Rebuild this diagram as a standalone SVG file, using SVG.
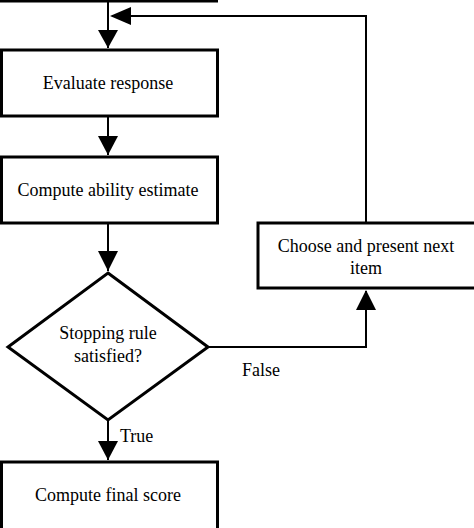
<svg xmlns="http://www.w3.org/2000/svg" width="474" height="528" viewBox="0 0 474 528">
<style>
.box{fill:#fff;stroke:#000;stroke-width:3}
.con{fill:none;stroke:#000;stroke-width:2}
.t{font-family:"Liberation Serif","Times New Roman",serif;font-size:18px;fill:#000;text-anchor:middle}
.l{font-family:"Liberation Serif","Times New Roman",serif;font-size:18px;fill:#000}
</style>
<rect width="474" height="528" fill="#fff"/>
<g id="connectors">
<path class="con" d="M108,2 V48"/>
<path d="M98,30 L118,30 L108,48 Z" fill="#000"/>
<path class="con" d="M366,222 V16 H112"/>
<path d="M110,16 L131,7 L131,25 Z" fill="#000"/>
<path class="con" d="M108,117 V155"/>
<path d="M98,136 L118,136 L108,155 Z" fill="#000"/>
<path class="con" d="M108,224 V271"/>
<path d="M98,251 L118,251 L108,271 Z" fill="#000"/>
<path class="con" d="M108,420 V460"/>
<path d="M98,441 L118,441 L108,460 Z" fill="#000"/>
<path class="con" d="M208,347 H366 V291"/>
<path d="M366,290 L356,310 L376,310 Z" fill="#000"/>
</g>
<g id="top-box">
<line x1="0" y1="1" x2="218" y2="1" stroke="#000" stroke-width="3"/>
</g>
<g id="evaluate">
<rect class="box" x="1.5" y="50" width="216" height="66"/>
<text class="t" x="108" y="89">Evaluate response</text>
</g>
<g id="ability">
<rect class="box" x="1.5" y="157" width="216" height="66"/>
<text class="t" x="108" y="196">Compute ability estimate</text>
</g>
<g id="stopping">
<polygon class="box" points="108,273 208,347 108,420 8,347"/>
<text class="t" x="108" y="339">Stopping rule</text>
<text class="t" x="108" y="362">satisfied?</text>
</g>
<g id="choose">
<rect class="box" x="258" y="223" width="218" height="65"/>
<text class="t" x="366" y="252">Choose and present next</text>
<text class="t" x="366" y="274">item</text>
</g>
<g id="final">
<rect class="box" x="1.5" y="462" width="216" height="70"/>
<text class="t" x="108" y="501">Compute final score</text>
</g>
<text class="l" x="242" y="376">False</text>
<text class="l" x="120" y="442">True</text>
</svg>
